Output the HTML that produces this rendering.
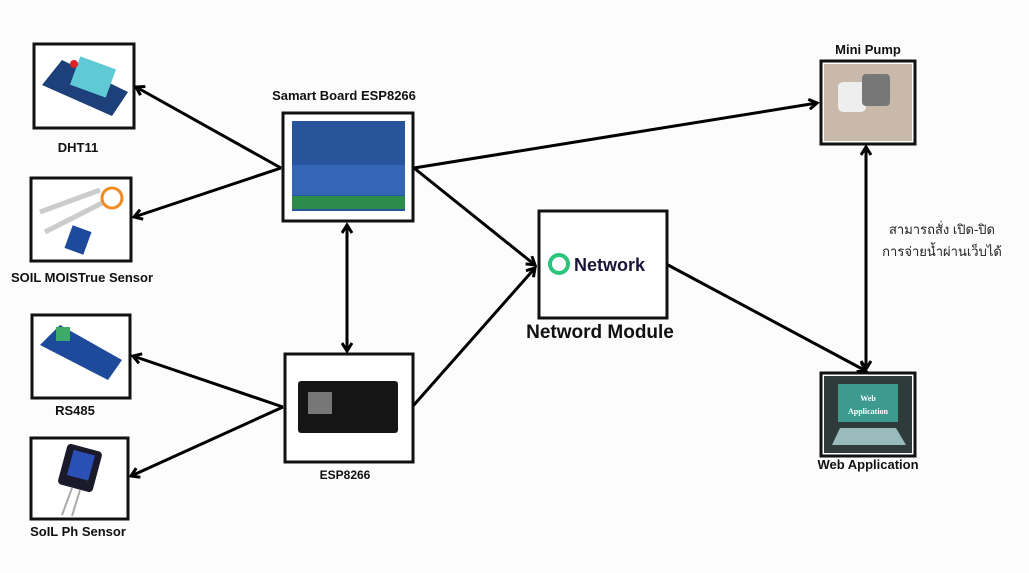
<!DOCTYPE html>
<html><head><meta charset="utf-8"><style>
body{margin:0;background:#fcfcfc;width:1029px;height:568px;overflow:hidden;font-family:"Liberation Sans","Noto Sans CJK SC",sans-serif}
</style></head><body>
<svg width="1029" height="568" viewBox="0 0 1029 568" xmlns="http://www.w3.org/2000/svg" font-family="Liberation Sans, Noto Sans CJK SC, sans-serif">
<defs><marker id="a" markerWidth="12" markerHeight="12" refX="9" refY="6" orient="auto-start-reverse" markerUnits="userSpaceOnUse"><path d="M1,1 L9,6 L1,11" fill="none" stroke="#000" stroke-width="3"/></marker></defs>
<rect width="1029" height="568" fill="#fcfcfc"/>
<g stroke="#111" stroke-width="3" fill="#fff">
<rect x="34" y="44" width="100" height="84"/>
<rect x="31" y="178" width="100" height="83"/>
<rect x="32" y="315" width="98" height="83"/>
<rect x="31" y="438" width="97" height="81"/>
<rect x="283" y="113" width="130" height="108"/>
<rect x="285" y="354" width="128" height="108"/>
<rect x="539" y="211" width="128" height="107"/>
<rect x="821" y="61" width="94" height="83"/>
<rect x="821" y="373" width="94" height="83"/>
</g>
<g>
<polygon points="42,85 62,60 128,92 112,116" fill="#1d3f7a"/>
<rect x="74" y="62" width="38" height="30" fill="#5fc9d6" transform="rotate(20 93 77)"/>
<circle cx="74" cy="64" r="4" fill="#d22"/>
<line x1="40" y1="212" x2="100" y2="190" stroke="#ccc" stroke-width="5"/>
<line x1="45" y1="232" x2="104" y2="202" stroke="#ccc" stroke-width="5"/>
<circle cx="112" cy="198" r="10" fill="none" stroke="#f08a24" stroke-width="3"/>
<rect x="68" y="228" width="20" height="24" fill="#1d4a9a" transform="rotate(20 78 240)"/>
<polygon points="40,345 60,325 122,360 108,380" fill="#1d4a9a"/>
<rect x="56" y="327" width="14" height="14" fill="#3daa6a"/>
<rect x="62" y="447" width="36" height="42" rx="4" fill="#1a1a2a" transform="rotate(15 80 468)"/>
<rect x="70" y="452" width="22" height="26" fill="#2a4fb5" transform="rotate(15 80 465)"/>
<line x1="72" y1="488" x2="62" y2="515" stroke="#aaa" stroke-width="2"/><line x1="80" y1="490" x2="72" y2="516" stroke="#aaa" stroke-width="2"/>
<rect x="292" y="121" width="113" height="90" fill="#27549b"/>
<rect x="292" y="165" width="113" height="30" fill="#3566b5"/>
<rect x="292" y="196" width="113" height="13" fill="#2c8c4a"/>
<rect x="298" y="381" width="100" height="52" rx="3" fill="#151515"/>
<rect x="308" y="392" width="24" height="22" fill="#777"/>
<circle cx="559" cy="264" r="9" fill="none" stroke="#2bc47b" stroke-width="4"/>
<text x="574" y="271" font-size="18" font-weight="bold" fill="#1c1438">Network</text>
<rect x="824" y="64" width="88" height="77" fill="#c8b9ab"/>
<rect x="838" y="82" width="28" height="30" rx="5" fill="#eee"/>
<rect x="862" y="74" width="28" height="32" rx="4" fill="#777"/>
<rect x="824" y="376" width="88" height="77" fill="#2f3a3a"/>
<rect x="838" y="384" width="60" height="38" fill="#3c9a8f"/>
<text x="868" y="401" font-size="8" font-weight="bold" fill="#fff" text-anchor="middle" font-family="Liberation Serif,serif">Web</text>
<text x="868" y="414" font-size="8" font-weight="bold" fill="#fff" text-anchor="middle" font-family="Liberation Serif,serif">Application</text>
<polygon points="832,445 840,428 896,428 906,445" fill="#9bb"/>
</g>
<g stroke="#000" stroke-width="3" fill="none">
<line x1="281" y1="168" x2="136" y2="87" marker-end="url(#a)"/>
<line x1="281" y1="168" x2="134" y2="217" marker-end="url(#a)"/>
<line x1="283" y1="407" x2="133" y2="356" marker-end="url(#a)"/>
<line x1="283" y1="407" x2="131" y2="476" marker-end="url(#a)"/>
<line x1="347" y1="225" x2="347" y2="351" marker-start="url(#a)" marker-end="url(#a)"/>
<line x1="414" y1="168" x2="817" y2="103" marker-end="url(#a)"/>
<line x1="414" y1="168" x2="535" y2="265" marker-end="url(#a)"/>
<line x1="413" y1="406" x2="535" y2="268" marker-end="url(#a)"/>
<line x1="668" y1="265" x2="866" y2="371" marker-end="url(#a)"/>
<line x1="866" y1="147" x2="866" y2="369" marker-start="url(#a)" marker-end="url(#a)"/>
</g>
<g font-weight="bold" fill="#111" text-anchor="middle">
<text x="78" y="152" font-size="13">DHT11</text>
<text x="82" y="282" font-size="13">SOIL MOISTrue Sensor</text>
<text x="75" y="415" font-size="13">RS485</text>
<text x="78" y="536" font-size="13">SoIL Ph Sensor</text>
<text x="344" y="100" font-size="13">Samart Board ESP8266</text>
<text x="345" y="479" font-size="12">ESP8266</text>
<text x="600" y="338" font-size="19">Netword Module</text>
<text x="868" y="54" font-size="13">Mini Pump</text>
<text x="868" y="469" font-size="13">Web Application</text>
</g>
<g font-size="13" fill="#222" text-anchor="middle">
<text x="942" y="234">สามารถสั่ง เปิด-ปิด</text>
<text x="942" y="256">การจ่ายน้ำผ่านเว็บได้</text>
</g>
</svg>
</body></html>
